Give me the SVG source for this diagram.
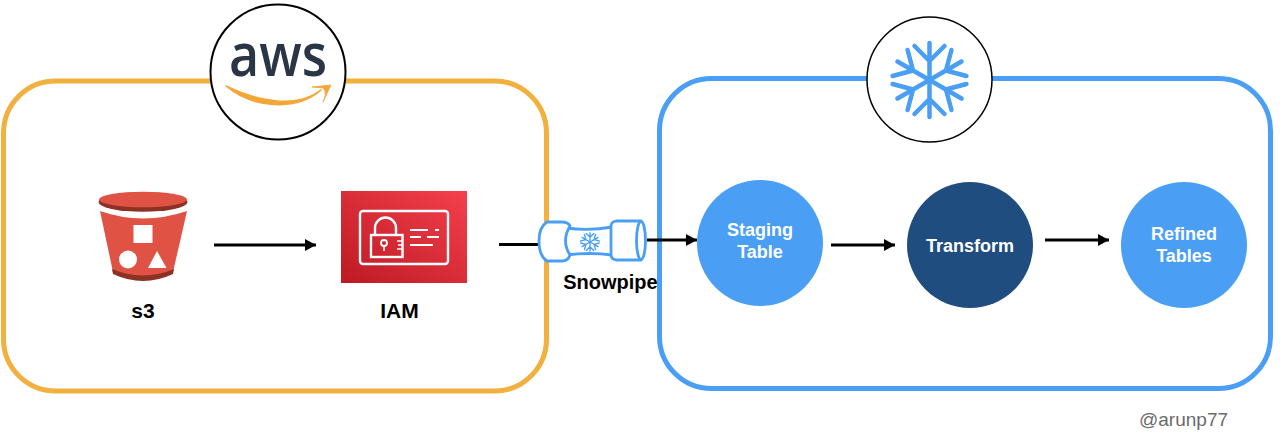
<svg xmlns="http://www.w3.org/2000/svg" width="1280" height="442" viewBox="0 0 1280 442">
<defs>
<style>
.lbl{font-family:"Liberation Sans",Arial,sans-serif;font-weight:700;fill:#000;text-anchor:middle}
.wh{font-family:"Liberation Sans",Arial,sans-serif;font-weight:700;fill:#fff;text-anchor:middle;font-size:18px}
.conn{stroke:#000;stroke-width:2.8;fill:none}
.flake{stroke:#4a9ff5;fill:none;stroke-linecap:round;stroke-linejoin:round}
.pipe{stroke:#4a9ff5;stroke-width:2.8;fill:#fff;stroke-linejoin:round}
.iamline{stroke:#fff;fill:none}
</style>
<marker id="ah" markerUnits="userSpaceOnUse" markerWidth="13" markerHeight="14" refX="12" refY="7" orient="auto"><path d="M1 1L12 7L1 13Z" fill="#000"/></marker>
<g id="arm"><path d="M0 0V-37M0 -19L-15 -34M0 -19L15 -34"/></g>
<linearGradient id="iamg" x1="0" y1="1" x2="1" y2="0"><stop offset="0" stop-color="#bd1a24"/><stop offset="1" stop-color="#f4404c"/></linearGradient>
</defs>

<rect id="aws-box" x="3.500" y="81" width="543" height="310" rx="52" fill="#fff" stroke="#f2b03f" stroke-width="5"/>
<rect id="snowflake-box" x="659.500" y="78.500" width="611" height="310" rx="52" fill="#fff" stroke="#4a9ff5" stroke-width="5"/>

<g id="aws-badge">
<circle cx="278" cy="72" r="67.500" fill="#fff" stroke="#000" stroke-width="2"/>
<text x="278" y="76" font-family="'Open Sans',sans-serif" font-weight="600" font-size="60" fill="#2a3546" text-anchor="middle" textLength="98" lengthAdjust="spacingAndGlyphs">aws</text>
<path d="M226 86C255 100 295 110 321 90C296 112 252 108 226 86Z" fill="#f4a638" stroke="#f4a638" stroke-width="1.500" stroke-linejoin="round"/>
<path d="M312 87L331 85L323 102C326 95 326 91 323 88Z" fill="#f4a638" stroke="#f4a638" stroke-width=".8" stroke-linejoin="round"/>
</g>

<g id="snowflake-badge">
<circle cx="929.500" cy="79.500" r="62.500" fill="#fff" stroke="#000" stroke-width="1.500"/>
<g class="flake" stroke-width="4.500" transform="translate(929.500 80)">
<use href="#arm"/><use href="#arm" transform="rotate(60)"/><use href="#arm" transform="rotate(120)"/><use href="#arm" transform="rotate(180)"/><use href="#arm" transform="rotate(240)"/><use href="#arm" transform="rotate(300)"/>
</g>
</g>

<g id="connectors">
<path class="conn" d="M214 245H316" marker-end="url(#ah)"/>
<path class="conn" d="M499 244.500H546"/>
<path class="conn" d="M647 240H697" marker-end="url(#ah)"/>
<path class="conn" d="M831 245H895" marker-end="url(#ah)"/>
<path class="conn" d="M1045 240H1109" marker-end="url(#ah)"/>
</g>

<g id="s3">
<path d="M100 211L113 272Q143 288 173 272L187 211Q143 226 100 211Z" fill="#e05243"/>
<path d="M112 269Q143 282 174 269L173 274Q143 288 113 274Z" fill="#8c3123"/>
<ellipse cx="143" cy="202" rx="44.500" ry="9.800" fill="#8c3123"/>
<ellipse cx="143" cy="199.500" rx="44" ry="7.800" fill="#e05243"/>
<path d="M100 209.500Q143 221 187 209.500" fill="none" stroke="#fff" stroke-width="2.500"/>
<rect x="133.500" y="225" width="19" height="18" fill="#fff"/>
<circle cx="128" cy="259.500" r="9" fill="#fff"/>
<path d="M157 251L166.500 268H148Z" fill="#fff"/>
<text class="lbl" x="143" y="318" font-size="21">s3</text>
</g>

<g id="iam">
<rect x="341" y="191" width="126" height="92" fill="url(#iamg)"/>
<rect x="360" y="211" width="88" height="53" rx="3" class="iamline" stroke-width="2.400"/>
<rect x="371" y="235" width="31.500" height="22" class="iamline" stroke-width="2.400"/>
<path d="M375 235V228A10.500 10.500 0 0 1 396 228V235" class="iamline" stroke-width="2.400"/>
<circle cx="384" cy="243" r="3" class="iamline" stroke-width="1.800"/>
<path d="M384 246V251M402 241H397M402 245H398M402 249H397" class="iamline" stroke-width="1.600"/>
<path d="M410 230H428M435 230H439M410 237H421M427 237H439M410 245H433" class="iamline" stroke-width="2"/>
<text class="lbl" x="399.500" y="318" font-size="21">IAM</text>
</g>

<g id="snowpipe">
<path class="pipe" d="M566 228Q590 231 612 227V255Q590 252 566 255Q561 241 566 228Z"/>
<path class="pipe" d="M547 222H562Q568 222 570 226Q561 241 570 255Q568 261 562 261H547Q539 256 539 241Q539 227 547 222Z"/>
<path class="pipe" d="M616 221H641V260H616Q611 259 611 255V226Q611 222 616 221Z"/>
<ellipse cx="641" cy="240.500" rx="4.500" ry="19" class="pipe"/>
<g class="flake" transform="translate(590 242) scale(.25)">
<g stroke-width="5.400"><use href="#arm"/><use href="#arm" transform="rotate(60)"/><use href="#arm" transform="rotate(120)"/><use href="#arm" transform="rotate(180)"/><use href="#arm" transform="rotate(240)"/><use href="#arm" transform="rotate(300)"/></g>
</g>
<text class="lbl" x="610.500" y="289" font-size="20">Snowpipe</text>
</g>

<g id="staging">
<circle cx="760" cy="243" r="63" fill="#4a9ff5"/>
<text class="wh" x="760" y="236">Staging</text>
<text class="wh" x="760" y="258">Table</text>
</g>
<g id="transform">
<circle cx="970" cy="245" r="63" fill="#1f4d80"/>
<text class="wh" x="970" y="252">Transform</text>
</g>
<g id="refined">
<circle cx="1184" cy="245" r="63" fill="#4a9ff5"/>
<text class="wh" x="1184" y="240">Refined</text>
<text class="wh" x="1184" y="262">Tables</text>
</g>
<text id="credit" x="1139" y="426" font-family="'Liberation Sans',Arial,sans-serif" font-size="19" fill="#6b6b6b">@arunp77</text>
</svg>
